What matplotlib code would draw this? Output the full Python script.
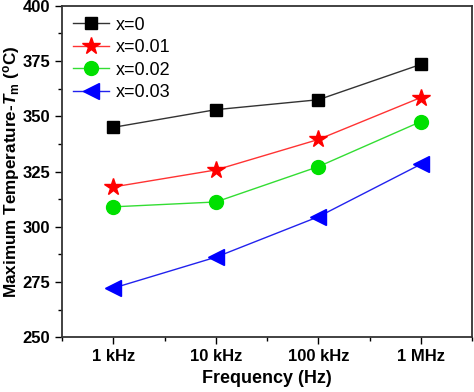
import matplotlib
matplotlib.use("Agg")
import matplotlib.pyplot as plt
from matplotlib.ticker import MultipleLocator

plt.rcParams['font.family'] = ['Liberation Sans', 'DejaVu Sans']
plt.rcParams['font.weight'] = 'bold'
plt.rcParams['mathtext.fontset'] = 'custom'
plt.rcParams['mathtext.it'] = 'Liberation Sans:italic:bold'
plt.rcParams['mathtext.rm'] = 'Liberation Sans:bold'

freqs = ['1 kHz', '10 kHz', '100 kHz', '1 MHz']
tm_x0 = [345, 353, 357.5, 373.5]
tm_x001 = [318, 325.7, 339.5, 358.5]
tm_x002 = [309, 311.2, 327.2, 347.6]
tm_x003 = [272.2, 286.2, 304.5, 328.3]

series = [
    ('x=0', tm_x0, '#333333', 'black', 's', 9),
    ('x=0.01', tm_x001, '#ff3333', 'red', '*', 13),
    ('x=0.02', tm_x002, '#33dd33', '#00e000', 'o', 10),
    ('x=0.03', tm_x003, '#2222ee', '#0000ff', '<', 12),
]

fig = plt.figure(figsize=(4.74, 3.92), dpi=100)
ax = fig.add_axes([0.131, 0.140, 0.865, 0.845])

pos = list(range(1, len(freqs) + 1))
for label, vals, lc, mc, mk, ms in series:
    ax.plot(pos, vals, color=lc, linewidth=1.0, marker=mk, markersize=ms,
            markerfacecolor=mc, markeredgecolor=mc, label=label)

ax.set_xlim(0.5, 4.5)
ax.set_ylim(250, 400)
ax.set_xticks(pos)
ax.set_xticklabels(freqs)
ax.xaxis.set_minor_locator(MultipleLocator(0.5))
ax.yaxis.set_major_locator(MultipleLocator(25))
ax.yaxis.set_minor_locator(MultipleLocator(12.5))
ax.tick_params(which='major', length=5, width=1, labelsize=12)
ax.tick_params(which='minor', length=3, width=1)
for s in ax.spines.values():
    s.set_linewidth(1.3)
    s.set_color('#333333')

ax.set_xlabel('Frequency (Hz)', fontsize=13, fontweight='bold')
ax.set_ylabel('Maximum Temperature-$T_{\\mathrm{m}}$ ($^{\\mathrm{o}}$C)', fontsize=12.3, fontweight='bold')
ax.yaxis.set_label_coords(-0.099, 0.50)
ax.xaxis.set_label_coords(0.5, -0.10)

leg = ax.legend(loc='upper left', frameon=False, fontsize=13, handlelength=2.0,
                borderaxespad=0.2, labelspacing=0.3, handletextpad=0.4)
for t in leg.get_texts():
    t.set_fontweight('normal')

fig.savefig('out.png', dpi=100)
